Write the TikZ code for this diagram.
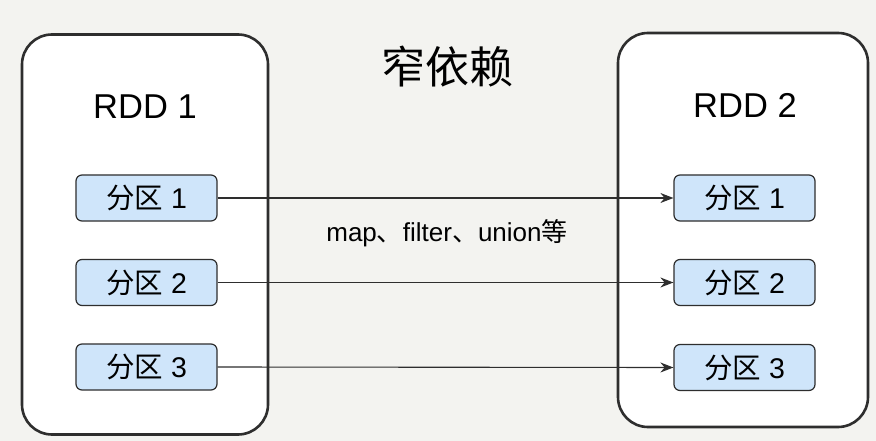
\documentclass[tikz,border=0pt]{standalone}
\usepackage{fontspec}
\setmainfont{Liberation Sans}
\newfontfamily\cjk{Noto Sans CJK SC}
\usetikzlibrary{arrows.meta}
\definecolor{bgc}{HTML}{F3F3F0}
\definecolor{partfill}{HTML}{CFE5FA}
\definecolor{edgec}{HTML}{2E2E2E}
\tikzset{
  rddbox/.style={draw=edgec, line width=2.6pt, fill=white, rounded corners=30pt, inner sep=0pt},
  partbox/.style={draw=edgec, line width=1.2pt, fill=partfill, rounded corners=6pt,
    minimum width=141pt, minimum height=46pt, inner sep=0pt, font=\fontsize{28.5}{30}\selectfont},
  rddlabel/.style={font=\fontsize{34.5}{36}\selectfont, inner sep=0pt},
  flow/.style={draw=edgec, line width=1.1pt, -{Stealth[length=13pt,width=10pt]}},
}
\begin{document}
\begin{tikzpicture}[x=1pt,y=-1pt]
\fill[bgc] (0,0) rectangle (876,441);
\useasboundingbox (0,0) rectangle (876,441);
\node[rddbox, minimum width=246pt, minimum height=400pt] (L) at (145,234.5) {};
\node[rddbox, minimum width=250pt, minimum height=394pt] (R) at (743,230) {};
\node[rddlabel] (Lt) at (145,107) {RDD 1};
\node[rddlabel] (Rt) at (745,105) {RDD 2};
\node[font=\fontsize{44}{46}\selectfont\cjk, inner sep=0pt] (title) at (447,67) {窄依赖};
\node[partbox] (p1) at (146.5,198) {{\cjk 分区} 1};
\node[partbox] (p2) at (146.5,282.5) {{\cjk 分区} 2};
\node[partbox] (p3) at (146.5,367) {{\cjk 分区} 3};
\node[partbox] (q1) at (744.5,198) {{\cjk 分区} 1};
\node[partbox] (q2) at (744.5,282.5) {{\cjk 分区} 2};
\node[partbox] (q3) at (744.5,367.5) {{\cjk 分区} 3};
\draw[flow] (p1.east) -- (q1.west);
\draw[flow] (p2.east) -- (q2.west);
\draw[flow] (p3.east) -- (q3.west);
\node[font=\fontsize{26}{28}\selectfont, inner sep=0pt] (lab) at (447,233) {map{\cjk 、}filter{\cjk 、}union{\cjk 等}};
\end{tikzpicture}
\end{document}
